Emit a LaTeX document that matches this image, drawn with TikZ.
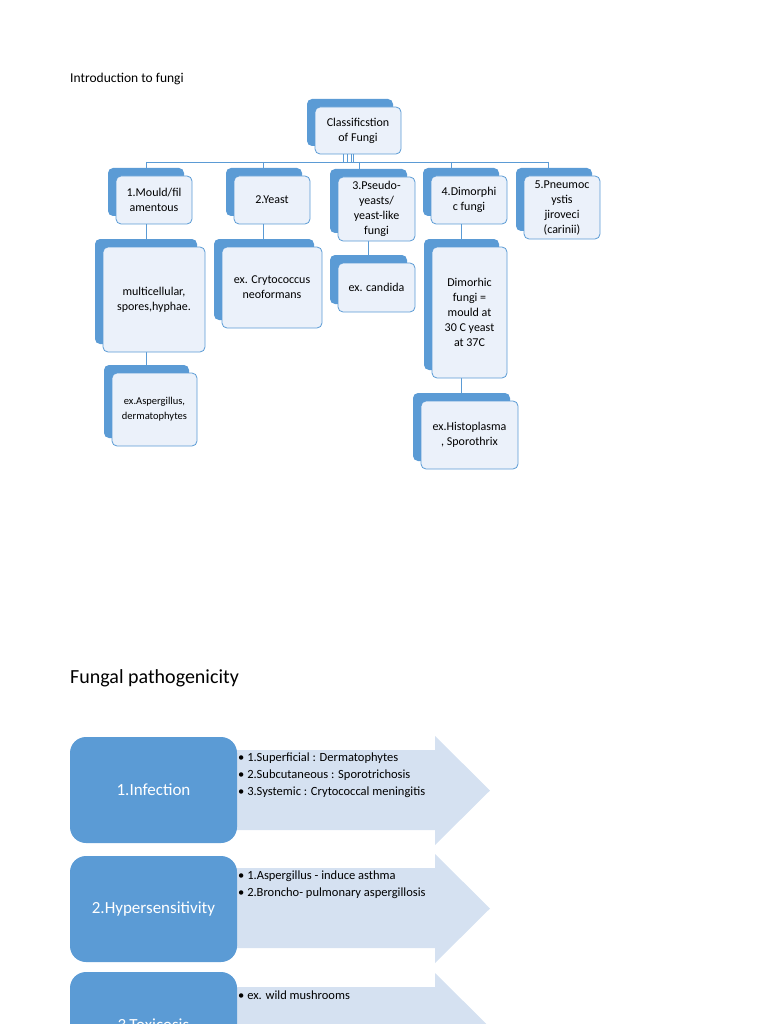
\documentclass[tikz,border=0pt]{standalone}
\usepackage{fontspec}
\setmainfont{Carlito}
\usetikzlibrary{shapes.arrows}
\definecolor{dblue}{HTML}{5B9BD5}
\definecolor{lfill}{HTML}{EBF1FA}
\definecolor{afill}{HTML}{D5E1F1}
\tikzset{
 back/.style={fill=dblue,rounded corners=5pt},
 front/.style={draw=dblue,fill=lfill,rounded corners=5pt,line width=0.8pt,align=center,inner sep=2pt,font=\fontsize{12}{15}\selectfont},
 conn/.style={draw=dblue,line width=0.8pt},
 big/.style={fill=dblue,rounded corners=16pt,text=white,font=\fontsize{17}{20}\selectfont},
 arr/.style={fill=afill},
 bul/.style={anchor=west,font=\fontsize{12.5}{17}\selectfont,align=left,inner sep=0pt}
}
% #1 name, #2 x1, #3 y1, #4 x2, #5 y2, #6 text
\newcommand\hbx[6]{%
 \fill[back] (#2-8,#3-8) rectangle (#4-8,#5-8);
 \node[front,minimum width=#4-#2,minimum height=#5-#3] (#1) at ({(#2+#4)/2},{(#3+#5)/2}) {#6};}
\begin{document}
\begin{tikzpicture}[x=1pt,y=-1pt]
\useasboundingbox (0,0) rectangle (768,1024);
\clip (0,0) rectangle (768,1024);
\node[anchor=west,font=\fontsize{13.5}{16}\selectfont,inner sep=0pt] (t1) at (70,79) {Introduction to fungi};
% connectors first
\coordinate (bl) at (146,162); \coordinate (br) at (548,162);
\draw[conn] (bl) -- (br);
\foreach \xx in {343,347,351,353}{\draw[conn] (\xx,154) -- (\xx,162);}
\foreach \xx in {146,263,359,451,548}{\draw[conn] (\xx,162) -- (\xx,176);}
\draw[conn] (146,224) -- (146,247);
\draw[conn] (263,224) -- (263,247);
\draw[conn] (368,241) -- (368,263);
\draw[conn] (461,224) -- (461,247);
\draw[conn] (146,352) -- (146,373);
\draw[conn] (461,378) -- (461,401);
\hbx{root}{315}{107}{401}{154}{Classificstion\\of Fungi}
\hbx{c1}{116}{176}{192}{224}{1.Mould/fil\\amentous}
\hbx{c2}{234}{176}{310}{224}{2.Yeast}
\hbx{c3}{338}{177}{415}{241}{3.Pseudo-\\yeasts/\\yeast-like\\fungi}
\hbx{c4}{431}{176}{507}{224}{4.Dimorphi\\c fungi}
\hbx{c5}{524}{176}{600}{239}{5.Pneumoc\\ystis\\jiroveci\\(carinii)}
\hbx{d1}{103}{247}{205}{352}{multicellular,\\spores,hyphae.}
\hbx{d2}{222}{247}{322}{328}{ex. Crytococcus\\neoformans}
\hbx{d3}{338}{263}{415}{312}{ex. candida}
\hbx{d4}{432}{247}{507}{378}{Dimorhic\\fungi =\\mould at\\30 C yeast\\at 37C}
\hbx{e1}{112}{373}{197}{446}{{\fontsize{10.5}{13}\selectfont ex.Aspergillus,}\\{\fontsize{10.5}{13}\selectfont dermatophytes}}
\hbx{e4}{421}{401}{518}{469}{ex.Histoplasma\\, Sporothrix}
\node[anchor=west,font=\fontsize{20}{24}\selectfont,inner sep=0pt] (t2) at (70,678) {Fungal pathogenicity};
% arrows
\foreach \ya/\yb/\ht/\hb in {750/830/736/845, 868/948/854/963, 987/1067/973/1082}{
 \fill[arr] (236,\ya) -- (435,\ya) -- (435,\ht) -- (490,{(\ht+\hb)/2}) -- (435,\hb) -- (435,\yb) -- (236,\yb) -- cycle;}
\node[big,minimum width=167,minimum height=106] (b1) at (153.5,790) {1.Infection};
\node[big,minimum width=167,minimum height=106] (b2) at (153.5,909) {2.Hypersensitivity};
\node[big,minimum width=167,minimum height=106] (b3) at (153.5,1025) {3.Toxicosis};
\node[bul] (l1) at (238,758) {\textbullet\ 1.Superficial : Dermatophytes};
\node[bul] (l2) at (238,775) {\textbullet\ 2.Subcutaneous : Sporotrichosis};
\node[bul] (l3) at (238,792) {\textbullet\ 3.Systemic : Crytococcal meningitis};
\node[bul] (l4) at (238,876) {\textbullet\ 1.Aspergillus - induce asthma};
\node[bul] (l5) at (238,893) {\textbullet\ 2.Broncho- pulmonary aspergillosis};
\node[bul] (l6) at (238,995) {\textbullet\ ex. wild mushrooms};
\end{tikzpicture}
\end{document}
